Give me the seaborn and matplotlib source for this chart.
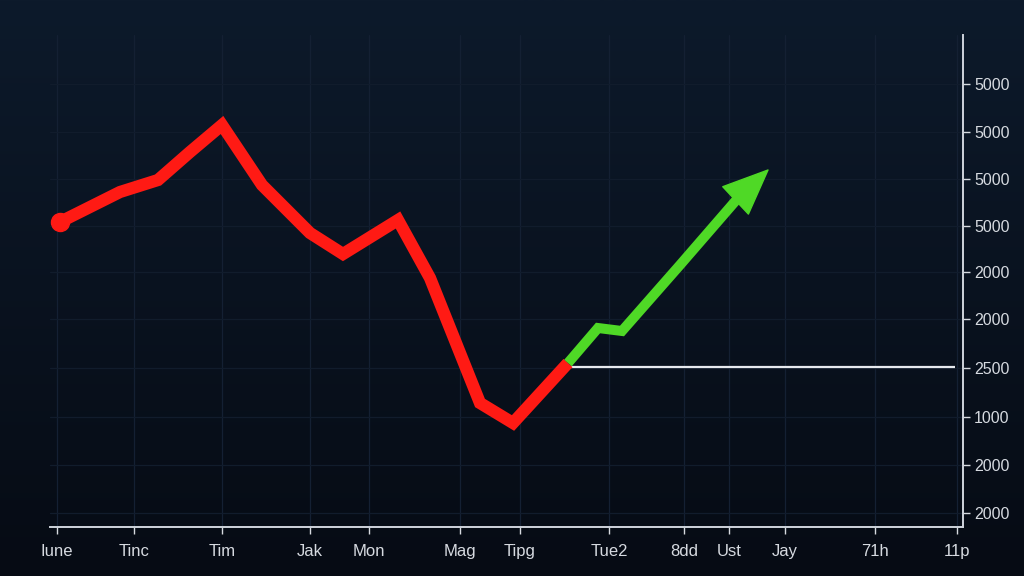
import numpy as np
import pandas as pd
import matplotlib
matplotlib.use("Agg")
import matplotlib.pyplot as plt
import seaborn as sns

# data (x / y in chart units)
red_x = [10, 70, 108, 140, 172, 212, 260, 293, 348, 380, 430, 463, 518]
red_y = [305, 335, 347, 375, 402, 342, 294, 273, 307, 249, 124, 104, 164]
green_x = [518, 548, 572, 630, 695]
green_y = [164, 199, 196, 262, 337]
arrow_tip = (718, 357)

x_ticks = [7, 84, 172, 260, 319, 410, 470, 559, 634, 679, 735, 825, 907]
x_labels = ["Iune", "Tinc", "Tim", "Jak", "Mon", "Mag", "Tipg", "Tue2",
            "8dd", "Ust", "Jay", "71h", "11p"]
y_ticks = [443, 395, 348, 301, 255, 208, 159, 110, 62, 14]
y_labels = ["5000", "5000", "5000", "5000", "2000", "2000", "2500",
            "1000", "2000", "2000"]
ref_level = 160
ref_span = (518, 905)

red_df = pd.DataFrame({"x": red_x, "y": red_y})
green_df = pd.DataFrame({"x": green_x, "y": green_y})

sns.set_theme(style="dark")
plt.rcParams["font.family"] = ["Liberation Sans", "DejaVu Sans"]

fig = plt.figure(figsize=(10.24, 5.76), dpi=100)
fig.patch.set_facecolor("#0a1320")

# background gradient
bg = fig.add_axes([0, 0, 1, 1], zorder=0)
grad = np.linspace(0, 1, 256).reshape(-1, 1)
cmap = matplotlib.colors.LinearSegmentedColormap.from_list("bg", ["#0d1a2b", "#060b14"])
bg.imshow(grad, aspect="auto", cmap=cmap, extent=[0, 1, 0, 1])
bg.axis("off")

ax = fig.add_axes([50/1024, 1 - 527/576, 913/1024, 492/576], zorder=1)
ax.set_facecolor("none")

# faint grid
for xt in x_ticks:
    ax.axvline(xt, color="#142033", lw=0.9, zorder=0)
for yt in y_ticks:
    ax.axhline(yt, color="#111c2c", lw=0.9, zorder=0)

sns.lineplot(data=red_df, x="x", y="y", ax=ax, color="#ff1a14", lw=8.8,
             solid_joinstyle="miter", solid_capstyle="butt", zorder=3)
ax.plot(red_x[0], red_y[0], "o", color="#ff1a14", ms=13, zorder=3)
sns.lineplot(data=green_df, x="x", y="y", ax=ax, color="#4fd926", lw=7.2,
             solid_joinstyle="miter", solid_capstyle="butt", zorder=4)
ax.annotate("", xy=arrow_tip, xytext=(green_x[-2] + 40, green_y[-2] + 50),
            arrowprops=dict(facecolor="#4fd926", edgecolor="#4fd926", width=0,
                            headwidth=27, headlength=32, shrink=0), zorder=5)

ax.hlines(ref_level, ref_span[0], ref_span[1], color="#e6e9ee", lw=1.6, zorder=2)

ax.set_xlim(0, 913)
ax.set_ylim(0, 492)
ax.set_xticks(x_ticks)
ax.set_xticklabels(x_labels)
ax.set_yticks(y_ticks)
ax.set_yticklabels(y_labels)
ax.yaxis.tick_right()
ax.set_xlabel("")
ax.set_ylabel("")
ax.grid(False)

for side in ["left", "top"]:
    ax.spines[side].set_visible(False)
for side in ["right", "bottom"]:
    ax.spines[side].set_visible(True)
    ax.spines[side].set_color("#cfd4dc")
    ax.spines[side].set_linewidth(1.4)

ax.tick_params(axis="both", colors="#d6dae0", length=5, width=1,
               direction="out", bottom=True, right=True)
ax.tick_params(axis="x", pad=7, labelsize=12)
ax.tick_params(axis="y", pad=3, labelsize=11.5)

fig.savefig("out.png", dpi=100, facecolor=fig.get_facecolor())
